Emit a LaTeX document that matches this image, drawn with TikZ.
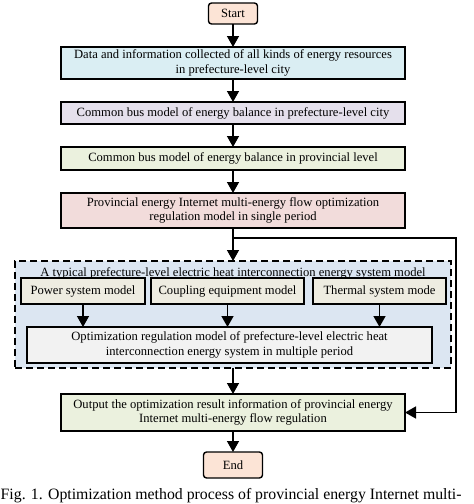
\documentclass[tikz,border=0pt]{standalone}
\usepackage{fontspec}
\setmainfont{Liberation Serif}
\usepackage{tikz}
\usetikzlibrary{arrows.meta}
\usetikzlibrary{positioning}
\definecolor{termpeach}{RGB}{252,228,214}
\definecolor{datablue}{RGB}{218,238,243}
\definecolor{buslilac}{RGB}{229,224,236}
\definecolor{levelgreen}{RGB}{235,241,222}
\definecolor{periodpink}{RGB}{242,220,219}
\definecolor{typicalblue}{RGB}{220,230,242}
\definecolor{partbeige}{RGB}{238,236,225}
\definecolor{multigray}{RGB}{242,242,242}
\newcommand{\boxfont}{\fontsize{12.6}{14.5}\selectfont}
\tikzstyle{flowbox} = [rectangle,draw,line width=1.4pt,outer sep=0pt,minimum width=344pt,align=center,inner sep=1pt,font=\boxfont]
\tikzstyle{terminal} = [rectangle,rounded corners=3pt,draw,line width=1.4pt,outer sep=0pt,fill=termpeach,minimum height=21pt,font=\boxfont]
\tikzstyle{partbox} = [rectangle,draw,line width=1.4pt,outer sep=0pt,fill=partbeige,minimum height=26pt,inner sep=1pt,font=\boxfont]
\tikzstyle{typical} = [rectangle,draw,line width=1.4pt,outer sep=0pt,dash pattern=on 7pt off 4pt,fill=typicalblue,minimum width=436pt,minimum height=107pt]

\begin{document}
\begin{tikzpicture}[->, >={Triangle[length=11pt,width=12pt]}, node distance=23pt, line width=1.4pt, x=1pt, y=1pt]
    \useasboundingbox (0,0) rectangle (474,-504);

      \node[terminal,minimum width=49pt] (start) at (233,-13.5) {Start};
      \node[flowbox,fill=datablue,minimum height=32pt] (data) [below=of start]
        {Data and information collected of all kinds of energy resources\\ in prefecture-level city};
      \node[flowbox,fill=buslilac,minimum height=22pt] (citybus) [below=of data]
        {Common bus model of energy balance in prefecture-level city};
      \node[flowbox,fill=levelgreen,minimum height=23pt] (provbus) [below=of citybus]
        {Common bus model of energy balance in provincial level};
      \node[flowbox,fill=periodpink,minimum height=35pt] (single) [below=of provbus]
        {Provincial energy Internet multi-energy flow optimization\\ regulation model in single period};

      % typical prefecture-level system
      \node[typical] (city) [below=33pt of single] {};
      \node[font=\boxfont] (citytitle) at ([yshift=-12pt]city.north)
        {A typical prefecture-level electric heat interconnection energy system model};
      \node[partbox,minimum width=124pt] (power) at (83,-291) {Power system model};
      \node[partbox,minimum width=153pt] (coupling) at (227.5,-291) {Coupling equipment model};
      \node[partbox,minimum width=133pt] (thermal) at (379.5,-291) {Thermal system mode};
      \node[flowbox,fill=multigray,minimum width=405pt,minimum height=36pt] (multi) at (229.5,-345)
        {Optimization regulation model of prefecture-level electric heat\\ interconnection energy system in multiple period};

      \node[flowbox,fill=levelgreen,minimum height=37pt] (output) [below=26pt of city]
        {Output the optimization result information of provincial energy\\ Internet multi-energy flow regulation};
      \node[terminal,minimum width=59pt,minimum height=26pt] (end) [below=21pt of output] {End};

      \node[anchor=base west,inner sep=0pt,font=\fontsize{15.8}{18}\selectfont] (caption) at (0,-499)
        {Fig. 1. Optimization method process of provincial energy Internet multi-};

      \foreach \a/\b in {start/data, data/citybus, citybus/provbus, provbus/single, single/city, city/output, output/end} {
        \draw (\a) -- (\b);
      }
      \foreach \p in {power, coupling, thermal} {
        \draw (\p.south) -- (\p.south |- multi.north);
      }

      % bypass to the output
      \coordinate[below=10pt of single.south] (split);
      \coordinate (rim) at (456,0);
      \draw (split) -- (split -| rim) |- (output.east);
    \end{tikzpicture}
\end{document}
